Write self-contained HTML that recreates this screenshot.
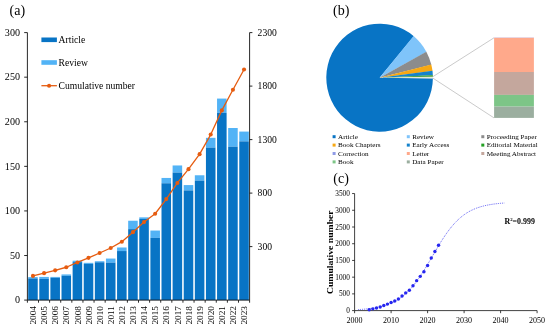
<!DOCTYPE html>
<html lang="en"><head><meta charset="utf-8"><title>Figure</title>
<style>html,body{margin:0;padding:0;background:#fff}svg{display:block}text{font-family:"Liberation Serif", serif;fill:#000}</style></head><body>
<svg width="550" height="329" viewBox="0 0 550 329">
<rect width="550" height="329" fill="#fff"/>
<g id="a">
<text x="9.5" y="14.9" font-size="14">(a)</text>
<rect x="28.18" y="277.10" width="9.55" height="1.34" fill="#52b3f6"/>
<rect x="28.18" y="278.43" width="9.55" height="21.67" fill="#0874c5"/>
<rect x="39.29" y="276.92" width="9.55" height="1.96" fill="#52b3f6"/>
<rect x="39.29" y="278.88" width="9.55" height="21.22" fill="#0874c5"/>
<rect x="50.40" y="276.92" width="9.55" height="0.89" fill="#52b3f6"/>
<rect x="50.40" y="277.81" width="9.55" height="22.29" fill="#0874c5"/>
<rect x="61.51" y="274.42" width="9.55" height="1.34" fill="#52b3f6"/>
<rect x="61.51" y="275.76" width="9.55" height="24.34" fill="#0874c5"/>
<rect x="72.62" y="260.69" width="9.55" height="1.43" fill="#52b3f6"/>
<rect x="72.62" y="262.12" width="9.55" height="37.99" fill="#0874c5"/>
<rect x="83.73" y="262.83" width="9.55" height="1.07" fill="#52b3f6"/>
<rect x="83.73" y="263.90" width="9.55" height="36.20" fill="#0874c5"/>
<rect x="94.84" y="261.22" width="9.55" height="1.07" fill="#52b3f6"/>
<rect x="94.84" y="262.29" width="9.55" height="37.81" fill="#0874c5"/>
<rect x="105.95" y="258.55" width="9.55" height="4.10" fill="#52b3f6"/>
<rect x="105.95" y="262.65" width="9.55" height="37.45" fill="#0874c5"/>
<rect x="117.06" y="247.49" width="9.55" height="3.57" fill="#52b3f6"/>
<rect x="117.06" y="251.06" width="9.55" height="49.04" fill="#0874c5"/>
<rect x="128.17" y="220.74" width="9.55" height="8.38" fill="#52b3f6"/>
<rect x="128.17" y="229.12" width="9.55" height="70.98" fill="#0874c5"/>
<rect x="139.28" y="217.35" width="9.55" height="1.61" fill="#52b3f6"/>
<rect x="139.28" y="218.96" width="9.55" height="81.14" fill="#0874c5"/>
<rect x="150.39" y="230.55" width="9.55" height="7.31" fill="#52b3f6"/>
<rect x="150.39" y="237.86" width="9.55" height="62.24" fill="#0874c5"/>
<rect x="161.50" y="177.94" width="9.55" height="5.35" fill="#52b3f6"/>
<rect x="161.50" y="183.29" width="9.55" height="116.81" fill="#0874c5"/>
<rect x="172.61" y="165.46" width="9.55" height="7.13" fill="#52b3f6"/>
<rect x="172.61" y="172.59" width="9.55" height="127.51" fill="#0874c5"/>
<rect x="183.72" y="185.08" width="9.55" height="5.35" fill="#52b3f6"/>
<rect x="183.72" y="190.43" width="9.55" height="109.68" fill="#0874c5"/>
<rect x="194.83" y="175.27" width="9.55" height="5.35" fill="#52b3f6"/>
<rect x="194.83" y="180.62" width="9.55" height="119.48" fill="#0874c5"/>
<rect x="205.94" y="137.82" width="9.55" height="9.81" fill="#52b3f6"/>
<rect x="205.94" y="147.62" width="9.55" height="152.48" fill="#0874c5"/>
<rect x="217.05" y="98.58" width="9.55" height="14.27" fill="#52b3f6"/>
<rect x="217.05" y="112.85" width="9.55" height="187.25" fill="#0874c5"/>
<rect x="228.16" y="128.01" width="9.55" height="18.72" fill="#52b3f6"/>
<rect x="228.16" y="146.73" width="9.55" height="153.37" fill="#0874c5"/>
<rect x="239.27" y="131.58" width="9.55" height="9.81" fill="#52b3f6"/>
<rect x="239.27" y="141.38" width="9.55" height="158.72" fill="#0874c5"/>
<g stroke="#111" stroke-width="0.9" fill="none">
<path d="M27.40 32.60 V300.10 H249.60 V32.60"/>
<path d="M24.20 300.10 H27.40"/>
<path d="M24.20 255.52 H27.40"/>
<path d="M24.20 210.93 H27.40"/>
<path d="M24.20 166.35 H27.40"/>
<path d="M24.20 121.77 H27.40"/>
<path d="M24.20 77.18 H27.40"/>
<path d="M24.20 32.60 H27.40"/>
<path d="M27.40 300.10 V302.70"/>
<path d="M38.51 300.10 V302.70"/>
<path d="M49.62 300.10 V302.70"/>
<path d="M60.73 300.10 V302.70"/>
<path d="M71.84 300.10 V302.70"/>
<path d="M82.95 300.10 V302.70"/>
<path d="M94.06 300.10 V302.70"/>
<path d="M105.17 300.10 V302.70"/>
<path d="M116.28 300.10 V302.70"/>
<path d="M127.39 300.10 V302.70"/>
<path d="M138.50 300.10 V302.70"/>
<path d="M149.61 300.10 V302.70"/>
<path d="M160.72 300.10 V302.70"/>
<path d="M171.83 300.10 V302.70"/>
<path d="M182.94 300.10 V302.70"/>
<path d="M194.05 300.10 V302.70"/>
<path d="M205.16 300.10 V302.70"/>
<path d="M216.27 300.10 V302.70"/>
<path d="M227.38 300.10 V302.70"/>
<path d="M238.49 300.10 V302.70"/>
<path d="M249.60 300.10 V302.70"/>
<path d="M249.60 246.60 H252.40"/>
<path d="M249.60 193.10 H252.40"/>
<path d="M249.60 139.60 H252.40"/>
<path d="M249.60 86.10 H252.40"/>
<path d="M249.60 32.60 H252.40"/>
</g>
<text x="20" y="303.40" font-size="10.1" text-anchor="end">0</text>
<text x="20" y="258.82" font-size="10.1" text-anchor="end">50</text>
<text x="20" y="214.23" font-size="10.1" text-anchor="end">100</text>
<text x="20" y="169.65" font-size="10.1" text-anchor="end">150</text>
<text x="20" y="125.07" font-size="10.1" text-anchor="end">200</text>
<text x="20" y="80.48" font-size="10.1" text-anchor="end">250</text>
<text x="20" y="35.90" font-size="10.1" text-anchor="end">300</text>
<text x="257.6" y="249.90" font-size="9.6">300</text>
<text x="257.6" y="196.40" font-size="9.6">800</text>
<text x="257.6" y="142.90" font-size="9.6">1300</text>
<text x="257.6" y="89.40" font-size="9.6">1800</text>
<text x="257.6" y="35.90" font-size="9.6">2300</text>
<text transform="translate(36.16 306) rotate(-90) scale(1 0.9)" font-size="9.3" text-anchor="end">2004</text>
<text transform="translate(47.27 306) rotate(-90) scale(1 0.9)" font-size="9.3" text-anchor="end">2005</text>
<text transform="translate(58.38 306) rotate(-90) scale(1 0.9)" font-size="9.3" text-anchor="end">2006</text>
<text transform="translate(69.48 306) rotate(-90) scale(1 0.9)" font-size="9.3" text-anchor="end">2007</text>
<text transform="translate(80.59 306) rotate(-90) scale(1 0.9)" font-size="9.3" text-anchor="end">2008</text>
<text transform="translate(91.70 306) rotate(-90) scale(1 0.9)" font-size="9.3" text-anchor="end">2009</text>
<text transform="translate(102.82 306) rotate(-90) scale(1 0.9)" font-size="9.3" text-anchor="end">2010</text>
<text transform="translate(113.92 306) rotate(-90) scale(1 0.9)" font-size="9.3" text-anchor="end">2011</text>
<text transform="translate(125.04 306) rotate(-90) scale(1 0.9)" font-size="9.3" text-anchor="end">2012</text>
<text transform="translate(136.14 306) rotate(-90) scale(1 0.9)" font-size="9.3" text-anchor="end">2013</text>
<text transform="translate(147.25 306) rotate(-90) scale(1 0.9)" font-size="9.3" text-anchor="end">2014</text>
<text transform="translate(158.36 306) rotate(-90) scale(1 0.9)" font-size="9.3" text-anchor="end">2015</text>
<text transform="translate(169.47 306) rotate(-90) scale(1 0.9)" font-size="9.3" text-anchor="end">2016</text>
<text transform="translate(180.58 306) rotate(-90) scale(1 0.9)" font-size="9.3" text-anchor="end">2017</text>
<text transform="translate(191.69 306) rotate(-90) scale(1 0.9)" font-size="9.3" text-anchor="end">2018</text>
<text transform="translate(202.80 306) rotate(-90) scale(1 0.9)" font-size="9.3" text-anchor="end">2019</text>
<text transform="translate(213.91 306) rotate(-90) scale(1 0.9)" font-size="9.3" text-anchor="end">2020</text>
<text transform="translate(225.02 306) rotate(-90) scale(1 0.9)" font-size="9.3" text-anchor="end">2021</text>
<text transform="translate(236.13 306) rotate(-90) scale(1 0.9)" font-size="9.3" text-anchor="end">2022</text>
<text transform="translate(247.24 306) rotate(-90) scale(1 0.9)" font-size="9.3" text-anchor="end">2023</text>
<polyline fill="none" stroke="#e65c10" stroke-width="1.3" stroke-linejoin="round" points="32.95,275.92 44.06,273.14 55.17,270.35 66.28,267.25 77.39,262.44 88.50,257.84 99.62,253.02 110.72,247.99 121.84,241.68 132.94,232.16 144.06,222.10 155.16,213.75 166.28,199.09 177.38,182.94 188.50,169.13 199.60,154.15 210.72,134.57 221.82,110.39 232.94,89.74 244.04,69.52"/>
<circle cx="32.95" cy="275.92" r="2.05" fill="#e65c10"/>
<circle cx="44.06" cy="273.14" r="2.05" fill="#e65c10"/>
<circle cx="55.17" cy="270.35" r="2.05" fill="#e65c10"/>
<circle cx="66.28" cy="267.25" r="2.05" fill="#e65c10"/>
<circle cx="77.39" cy="262.44" r="2.05" fill="#e65c10"/>
<circle cx="88.50" cy="257.84" r="2.05" fill="#e65c10"/>
<circle cx="99.62" cy="253.02" r="2.05" fill="#e65c10"/>
<circle cx="110.72" cy="247.99" r="2.05" fill="#e65c10"/>
<circle cx="121.84" cy="241.68" r="2.05" fill="#e65c10"/>
<circle cx="132.94" cy="232.16" r="2.05" fill="#e65c10"/>
<circle cx="144.06" cy="222.10" r="2.05" fill="#e65c10"/>
<circle cx="155.16" cy="213.75" r="2.05" fill="#e65c10"/>
<circle cx="166.28" cy="199.09" r="2.05" fill="#e65c10"/>
<circle cx="177.38" cy="182.94" r="2.05" fill="#e65c10"/>
<circle cx="188.50" cy="169.13" r="2.05" fill="#e65c10"/>
<circle cx="199.60" cy="154.15" r="2.05" fill="#e65c10"/>
<circle cx="210.72" cy="134.57" r="2.05" fill="#e65c10"/>
<circle cx="221.82" cy="110.39" r="2.05" fill="#e65c10"/>
<circle cx="232.94" cy="89.74" r="2.05" fill="#e65c10"/>
<circle cx="244.04" cy="69.52" r="2.05" fill="#e65c10"/>
<rect x="41.4" y="37.5" width="15.5" height="4.6" fill="#0874c5"/>
<text x="58.6" y="43" font-size="9.6">Article</text>
<rect x="41.4" y="60.2" width="15.5" height="4.6" fill="#52b3f6"/>
<text x="58.6" y="65.7" font-size="9.6">Review</text>
<path d="M41.4 85.7 H56.9" stroke="#e65c10" stroke-width="1.3"/>
<circle cx="49.1" cy="85.7" r="2.05" fill="#e65c10"/>
<text x="58.6" y="88.5" font-size="9.6">Cumulative number</text>
</g>
<g id="b">
<text x="333" y="15.1" font-size="14">(b)</text>
<path d="M379.60 77.70 L413.80 36.28 A53.30 54.00 0 1 0 432.90 78.29 Z" fill="#0874c5"/>
<path d="M379.60 77.70 L426.46 51.96 A53.30 54.00 0 0 0 413.58 36.10 Z" fill="#7fc4fa"/>
<path d="M379.60 77.70 L431.34 64.72 A53.30 54.00 0 0 0 426.32 51.72 Z" fill="#8c8c8c"/>
<path d="M379.60 77.70 L432.50 71.11 A53.30 54.00 0 0 0 431.27 64.45 Z" fill="#f7a813"/>
<path d="M379.60 77.70 L432.84 75.16 A53.30 54.00 0 0 0 432.47 70.83 Z" fill="#1583cc"/>
<path d="M379.60 77.70 L432.90 76.98 A53.30 54.00 0 0 0 432.83 74.88 Z" fill="#4fa64a"/>
<path d="M379.60 77.70 L432.89 78.58 A53.30 54.00 0 0 0 432.89 76.79 Z" fill="#e8ead8"/>
<path d="M433 76.6 L494 37.8 M433 78.2 L494 117.9" stroke="#a6a6a6" stroke-width="0.6" fill="none"/>
<rect x="494.10" y="37.80" width="39.80" height="34.20" fill="#ffa98b"/>
<rect x="494.10" y="72.00" width="39.80" height="22.90" fill="#c4a79d"/>
<rect x="494.10" y="94.90" width="39.80" height="11.70" fill="#7dc587"/>
<rect x="494.10" y="106.60" width="39.80" height="11.30" fill="#9bae9f"/>
<rect x="494.10" y="37.5" width="39.80" height="0.4" fill="#c8b4d8"/>
<rect x="332.60" y="135.20" width="3" height="3" fill="#0874c5"/>
<text x="338.00" y="138.80" font-size="7.15">Article</text>
<rect x="406.80" y="135.20" width="3" height="3" fill="#7fc4fa"/>
<text x="412.20" y="138.80" font-size="7.15">Review</text>
<rect x="481.30" y="135.20" width="3" height="3" fill="#8c8c8c"/>
<text x="486.70" y="138.80" font-size="7.15">Proceeding Paper</text>
<rect x="332.60" y="143.60" width="3" height="3" fill="#f7a813"/>
<text x="338.00" y="147.20" font-size="7.15">Book Chapters</text>
<rect x="406.80" y="143.60" width="3" height="3" fill="#1583cc"/>
<text x="412.20" y="147.20" font-size="7.15">Early Access</text>
<rect x="481.30" y="143.60" width="3" height="3" fill="#23a023"/>
<text x="486.70" y="147.20" font-size="7.15">Editorial Material</text>
<rect x="332.60" y="152.00" width="3" height="3" fill="#8f9be6"/>
<text x="338.00" y="155.60" font-size="7.15">Correction</text>
<rect x="406.80" y="152.00" width="3" height="3" fill="#ffa98b"/>
<text x="412.20" y="155.60" font-size="7.15">Letter</text>
<rect x="481.30" y="152.00" width="3" height="3" fill="#c4a79d"/>
<text x="486.70" y="155.60" font-size="7.15">Meeting Abstract</text>
<rect x="332.60" y="160.40" width="3" height="3" fill="#7dc587"/>
<text x="338.00" y="164.00" font-size="7.15">Book</text>
<rect x="406.80" y="160.40" width="3" height="3" fill="#9bae9f"/>
<text x="412.20" y="164.00" font-size="7.15">Data Paper</text>
</g>
<g id="c">
<text x="333.3" y="182.6" font-size="14">(c)</text>
<g stroke="#111" stroke-width="0.8" fill="none">
<path d="M354.60 193.56 V310.60 H537.10"/>
<path d="M352.10 310.60 H354.60"/>
<path d="M352.10 293.88 H354.60"/>
<path d="M352.10 277.16 H354.60"/>
<path d="M352.10 260.44 H354.60"/>
<path d="M352.10 243.72 H354.60"/>
<path d="M352.10 227.00 H354.60"/>
<path d="M352.10 210.28 H354.60"/>
<path d="M352.10 193.56 H354.60"/>
<path d="M354.60 310.60 V313.20"/>
<path d="M391.10 310.60 V313.20"/>
<path d="M427.60 310.60 V313.20"/>
<path d="M464.10 310.60 V313.20"/>
<path d="M500.60 310.60 V313.20"/>
<path d="M537.10 310.60 V313.20"/>
</g>
<text x="349.9" y="313.10" font-size="7.3" text-anchor="end">0</text>
<text x="349.9" y="296.38" font-size="7.3" text-anchor="end">500</text>
<text x="349.9" y="279.66" font-size="7.3" text-anchor="end">1000</text>
<text x="349.9" y="262.94" font-size="7.3" text-anchor="end">1500</text>
<text x="349.9" y="246.22" font-size="7.3" text-anchor="end">2000</text>
<text x="349.9" y="229.50" font-size="7.3" text-anchor="end">2500</text>
<text x="349.9" y="212.78" font-size="7.3" text-anchor="end">3000</text>
<text x="349.9" y="196.06" font-size="7.3" text-anchor="end">3500</text>
<text x="354.60" y="322.7" font-size="8" text-anchor="middle">2000</text>
<text x="391.10" y="322.7" font-size="8" text-anchor="middle">2010</text>
<text x="427.60" y="322.7" font-size="8" text-anchor="middle">2020</text>
<text x="464.10" y="322.7" font-size="8" text-anchor="middle">2030</text>
<text x="500.60" y="322.7" font-size="8" text-anchor="middle">2040</text>
<text x="537.10" y="322.7" font-size="8" text-anchor="middle">2050</text>
<text transform="translate(333.4 252.2) rotate(-90) scale(1 0.9)" font-size="9.7" font-weight="bold" text-anchor="middle">Cumulative number</text>
<polyline fill="none" stroke="#3a3af0" stroke-width="0.85" stroke-dasharray="0.9 1.0" points="358.25,309.61 358.98,309.56 359.72,309.51 360.45,309.46 361.18,309.41 361.92,309.35 362.65,309.30 363.39,309.23 364.12,309.17 364.85,309.10 365.59,309.03 366.32,308.96 367.05,308.88 367.79,308.80 368.52,308.72 369.26,308.63 369.99,308.54 370.72,308.44 371.46,308.34 372.19,308.24 372.92,308.13 373.66,308.01 374.39,307.90 375.12,307.77 375.86,307.64 376.59,307.50 377.33,307.36 378.06,307.21 378.79,307.05 379.53,306.89 380.26,306.72 380.99,306.54 381.73,306.36 382.46,306.17 383.19,305.96 383.93,305.75 384.66,305.53 385.40,305.31 386.13,305.07 386.86,304.82 387.60,304.56 388.33,304.29 389.06,304.01 389.80,303.71 390.53,303.41 391.27,303.09 392.00,302.76 392.73,302.41 393.47,302.06 394.20,301.68 394.93,301.30 395.67,300.89 396.40,300.48 397.13,300.04 397.87,299.59 398.60,299.12 399.34,298.64 400.07,298.13 400.80,297.61 401.54,297.07 402.27,296.51 403.00,295.93 403.74,295.34 404.47,294.72 405.20,294.08 405.94,293.42 406.67,292.73 407.41,292.03 408.14,291.30 408.87,290.56 409.61,289.79 410.34,288.99 411.07,288.18 411.81,287.34 412.54,286.48 413.28,285.60 414.01,284.70 414.74,283.77 415.48,282.82 416.21,281.85 416.94,280.86 417.68,279.84 418.41,278.81 419.14,277.76 419.88,276.68 420.61,275.59 421.35,274.48 422.08,273.35 422.81,272.21 423.55,271.05 424.28,269.87 425.01,268.68 425.75,267.48 426.48,266.27 427.21,265.04 427.95,263.81 428.68,262.57 429.42,261.32 430.15,260.07 430.88,258.81 431.62,257.55 432.35,256.29 433.08,255.03 433.82,253.77 434.55,252.51 435.29,251.26 436.02,250.01 436.75,248.77 437.49,247.54 438.22,246.31 438.95,245.10 439.69,243.90 440.42,242.71 441.15,241.53 441.89,240.37 442.62,239.22 443.36,238.09 444.09,236.98 444.82,235.89 445.56,234.81 446.29,233.75 447.02,232.72 447.76,231.70 448.49,230.71 449.22,229.74 449.96,228.79 450.69,227.86 451.43,226.95 452.16,226.07 452.89,225.21 453.63,224.37 454.36,223.55 455.09,222.76 455.83,221.98 456.56,221.23 457.30,220.51 458.03,219.80 458.76,219.12 459.50,218.45 460.23,217.81 460.96,217.19 461.70,216.59 462.43,216.01 463.16,215.45 463.90,214.91 464.63,214.39 465.37,213.88 466.10,213.39 466.83,212.92 467.57,212.47 468.30,212.04 469.03,211.62 469.77,211.21 470.50,210.82 471.23,210.45 471.97,210.09 472.70,209.75 473.44,209.41 474.17,209.09 474.90,208.79 475.64,208.49 476.37,208.21 477.10,207.94 477.84,207.68 478.57,207.43 479.31,207.19 480.04,206.96 480.77,206.74 481.51,206.53 482.24,206.33 482.97,206.13 483.71,205.95 484.44,205.77 485.17,205.60 485.91,205.44 486.64,205.28 487.38,205.13 488.11,204.99 488.84,204.85 489.58,204.72 490.31,204.59 491.04,204.47 491.78,204.36 492.51,204.25 493.24,204.14 493.98,204.04 494.71,203.94 495.45,203.85 496.18,203.76 496.91,203.68 497.65,203.60 498.38,203.52 499.11,203.45 499.85,203.38 500.58,203.31 501.32,203.25 502.05,203.19 502.78,203.13 503.52,203.07 504.25,203.02"/>
<circle cx="369.20" cy="309.73" r="1.7" fill="#2626f0"/>
<circle cx="372.85" cy="308.86" r="1.7" fill="#2626f0"/>
<circle cx="376.50" cy="307.99" r="1.7" fill="#2626f0"/>
<circle cx="380.15" cy="307.02" r="1.7" fill="#2626f0"/>
<circle cx="383.80" cy="305.52" r="1.7" fill="#2626f0"/>
<circle cx="387.45" cy="304.08" r="1.7" fill="#2626f0"/>
<circle cx="391.10" cy="302.57" r="1.7" fill="#2626f0"/>
<circle cx="394.75" cy="301.00" r="1.7" fill="#2626f0"/>
<circle cx="398.40" cy="299.03" r="1.7" fill="#2626f0"/>
<circle cx="402.05" cy="296.05" r="1.7" fill="#2626f0"/>
<circle cx="405.70" cy="292.91" r="1.7" fill="#2626f0"/>
<circle cx="409.35" cy="290.30" r="1.7" fill="#2626f0"/>
<circle cx="413.00" cy="285.72" r="1.7" fill="#2626f0"/>
<circle cx="416.65" cy="280.67" r="1.7" fill="#2626f0"/>
<circle cx="420.30" cy="276.36" r="1.7" fill="#2626f0"/>
<circle cx="423.95" cy="271.68" r="1.7" fill="#2626f0"/>
<circle cx="427.60" cy="265.56" r="1.7" fill="#2626f0"/>
<circle cx="431.25" cy="258.00" r="1.7" fill="#2626f0"/>
<circle cx="434.90" cy="251.54" r="1.7" fill="#2626f0"/>
<circle cx="438.55" cy="245.22" r="1.7" fill="#2626f0"/>
<text x="504.5" y="223.8" font-size="7.9" font-weight="bold">R<tspan dy="-2.8" font-size="4.8">2</tspan><tspan dy="2.8">=0.999</tspan></text>
</g>
</svg></body></html>
